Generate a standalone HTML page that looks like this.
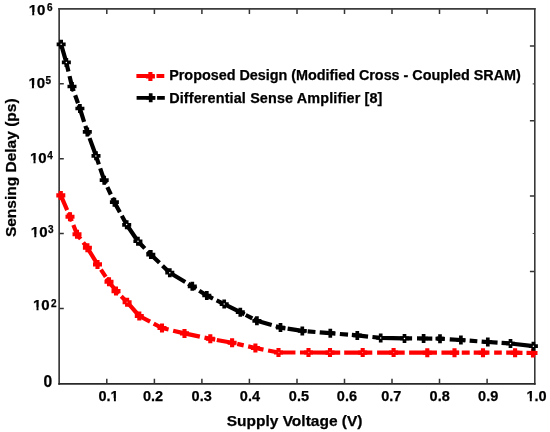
<!DOCTYPE html>
<html><head><meta charset="utf-8"><style>
html,body{margin:0;padding:0;background:#fff;}
svg{display:block;}
text{font-family:"Liberation Sans",sans-serif;font-weight:bold;fill:#000;stroke:#000;stroke-width:0.25px;}
.lg{font-size:14.4px;}
.ti{font-size:15.5px;}
.tk{font-size:14.5px;}
.sp{font-size:10px;}
.tky{font-size:15px;}
.tk0{font-size:15.6px;}
</style></head><body>
<svg width="550" height="432" viewBox="0 0 550 432">
<rect width="550" height="432" fill="#fff"/>
<path d="M59.15 8V384.7" stroke="#3c3c3c" stroke-width="1.7" fill="none"/>
<path d="M534.8 8V384.7" stroke="#383838" stroke-width="1.6" fill="none"/>
<path d="M58.3 8.9H535.6" stroke="#3c3c3c" stroke-width="1.8" fill="none"/>
<path d="M58.3 383.85H535.6" stroke="#2a2a2a" stroke-width="1.65" fill="none"/>
<path d="M106.8 383.5V378.7M106.8 9.2V14.0M154.4 383.5V378.7M154.4 9.2V14.0M201.9 383.5V378.7M201.9 9.2V14.0M249.4 383.5V378.7M249.4 9.2V14.0M297 383.5V378.7M297 9.2V14.0M344.5 383.5V378.7M344.5 9.2V14.0M392 383.5V378.7M392 9.2V14.0M439.5 383.5V378.7M439.5 9.2V14.0M487.1 383.5V378.7M487.1 9.2V14.0M59.5 83.8H63.8M59.5 158.8H63.8M59.5 233.6H63.8M59.5 308.5H63.8M534.5 45.9H529.9M534.5 120.8H529.9M534.5 195.9H529.9M534.5 271.5H529.9M534.5 346.5H529.9" stroke="#333" stroke-width="1.5" fill="none"/>
<path d="M534 83.8H532.7M534 233.5H532.7" stroke="#555" stroke-width="1.2" fill="none"/>
<polyline points="60.8,195.4 70.0,216.7 77.0,234.2 87.4,247.8 97.5,264.4 109.0,281.8 116.0,291.1 127.1,302.2 139.3,316.0 162.0,328.0 184.5,333.4 210.3,338.8 232.1,342.7 255.4,348.0 278.5,352.5 308.5,352.5 330.0,352.6 362.7,352.6 393.6,352.6 427.3,352.7 454.5,352.7 483.0,352.7 515.1,352.7 533.0,353.0" fill="none" stroke="#f00" stroke-width="4.2" stroke-dasharray="16.06 3.00 8.97 4.20 15.85 4.30 28.95 3.50 8.75 1.50 19.93 3.50 38.89 4.10 16.16 4.70 27.39 4.70 10.95 1.60 19.28 1.50 6.65 4.60 15.65 4.70 27.54 4.50 40.25 4.00 28.10 4.80 27.60 4.40 27.85 4.50 17.80 2.50 7.95 4.00 15.75 4.70 7.65 4.40 16.30 4.00 16.50 0.00" stroke-linejoin="round"/>
<path d="M56.30 195.40H65.30M60.80 190.90V199.90M65.50 216.70H74.50M70.00 212.20V221.20M72.50 234.20H81.50M77.00 229.70V238.70M82.90 247.80H91.90M87.40 243.30V252.30M93.00 264.40H102.00M97.50 259.90V268.90M104.50 281.80H113.50M109.00 277.30V286.30M111.50 291.10H120.50M116.00 286.60V295.60M122.60 302.20H131.60M127.10 297.70V306.70M134.80 316.00H143.80M139.30 311.50V320.50M157.50 328.00H166.50M162.00 323.50V332.50M180.00 333.40H189.00M184.50 328.90V337.90M205.80 338.80H214.80M210.30 334.30V343.30M227.60 342.70H236.60M232.10 338.20V347.20M250.90 348.00H259.90M255.40 343.50V352.50M274.00 352.50H283.00M278.50 348.00V357.00M304.00 352.50H313.00M308.50 348.00V357.00M325.50 352.60H334.50M330.00 348.10V357.10M358.20 352.60H367.20M362.70 348.10V357.10M389.10 352.60H398.10M393.60 348.10V357.10M422.80 352.70H431.80M427.30 348.20V357.20M450.00 352.70H459.00M454.50 348.20V357.20M478.50 352.70H487.50M483.00 348.20V357.20M510.60 352.70H519.60M515.10 348.20V357.20M528.50 353.00H537.50M533.00 348.50V357.50" stroke="#f00" stroke-width="4.1" fill="none"/>
<polyline points="61.1,44.4 66.3,62.4 72.0,86.5 79.9,108.5 87.3,131.9 96.0,155.8 104.2,180.2 114.4,202.2 126.7,224.8 137.9,241.2 150.8,254.6 169.8,272.7 192.3,286.3 206.8,295.5 224.2,304.1 240.3,312.2 256.9,320.8 280.5,327.6 302.3,330.9 330.3,333.2 357.3,335.4 380.7,337.9 404.5,338.4 423.6,338.5 440.0,338.7 460.9,340.0 487.8,342.0 510.5,343.5 533.4,346.2" fill="none" stroke="#000" stroke-width="4.2" stroke-dasharray="28.04 4.80 15.72 4.30 8.37 2.00 17.57 4.30 10.41 2.50 27.85 4.20 16.48 3.60 8.22 3.70 16.20 4.10 40.00 4.00 16.63 4.20 28.14 3.50 9.33 3.60 15.92 4.00 31.29 1.30 7.47 1.30 19.22 4.30 9.88 2.20 18.22 2.00 7.79 4.30 15.80 4.40 8.22 3.80 16.30 4.40 39.74 4.90 15.30 4.30 8.22 4.90 15.67 4.30 7.71 4.30 16.00 4.00 42.07 0.00" stroke-linejoin="round"/>
<path d="M56.65 44.35H65.65M61.15 39.85V48.85M61.85 62.40H70.85M66.35 57.90V66.90M67.50 86.50H76.50M72.00 82.00V91.00M75.40 108.50H84.40M79.90 104.00V113.00M82.80 131.90H91.80M87.30 127.40V136.40M91.50 155.80H100.50M96.00 151.30V160.30M99.70 180.20H108.70M104.20 175.70V184.70M109.90 202.20H118.90M114.40 197.70V206.70M122.20 224.80H131.20M126.70 220.30V229.30M133.40 241.25H142.40M137.90 236.75V245.75M146.30 254.60H155.30M150.80 250.10V259.10M165.30 272.70H174.30M169.80 268.20V277.20M187.80 286.30H196.80M192.30 281.80V290.80M202.30 295.50H211.30M206.80 291.00V300.00M219.70 304.10H228.70M224.20 299.60V308.60M235.80 312.20H244.80M240.30 307.70V316.70M252.40 320.80H261.40M256.90 316.30V325.30M276.00 327.60H285.00M280.50 323.10V332.10M297.80 330.90H306.80M302.30 326.40V335.40M325.80 333.20H334.80M330.30 328.70V337.70M352.80 335.40H361.80M357.30 330.90V339.90M376.20 337.90H385.20M380.70 333.40V342.40M400.00 338.40H409.00M404.50 333.90V342.90M419.10 338.50H428.10M423.60 334.00V343.00M435.50 338.70H444.50M440.00 334.20V343.20M456.40 340.00H465.40M460.90 335.50V344.50M483.30 342.00H492.30M487.80 337.50V346.50M506.00 343.50H515.00M510.50 339.00V348.00M528.90 346.20H537.90M533.40 341.70V350.70" stroke="#000" stroke-width="3.7" fill="none"/>
<g fill="#fff"><circle cx="61.15" cy="44.35" r="0.75"/><circle cx="66.35" cy="62.4" r="0.75"/><circle cx="95.9" cy="155.9" r="0.75"/><circle cx="126.6" cy="224.6" r="0.75"/><circle cx="138.0" cy="241.2" r="0.75"/><circle cx="169.8" cy="272.8" r="0.75"/><circle cx="224.2" cy="304.1" r="0.75"/><circle cx="380.7" cy="337.9" r="0.75"/><circle cx="404.45" cy="338.6" r="0.75"/><circle cx="510.5" cy="343.5" r="0.75"/><circle cx="533.4" cy="346.2" r="0.75"/></g>
<g fill="#ff8a8a"><circle cx="127.1" cy="302.2" r="0.6"/><circle cx="278.9" cy="352.4" r="0.6"/><circle cx="308.8" cy="352.4" r="0.6"/><circle cx="329.9" cy="352.4" r="0.6"/><circle cx="362.6" cy="352.5" r="0.6"/><circle cx="393.7" cy="352.5" r="0.6"/></g>
<path d="M136.4 76.05H154.4M156.5 76.05H164.3" stroke="#f00" stroke-width="3.9"/>
<path d="M145.90 76.40H154.90M150.40 71.90V80.90" stroke="#f00" stroke-width="4.1" fill="none"/>
<path d="M136.6 97.9H155.3M157.1 97.9H164.8" stroke="#000" stroke-width="3.8"/>
<path d="M146.20 97.75H155.20M150.70 93.25V102.25" stroke="#000" stroke-width="3.7" fill="none"/>
<text x="169.2" y="79.7" class="lg" textLength="351.6" lengthAdjust="spacing">Proposed Design (Modified Cross - Coupled SRAM)</text>
<text x="169.2" y="103" class="lg" textLength="213.2" lengthAdjust="spacing">Differential Sense Amplifier [8]</text>
<text x="294.6" y="425.7" class="ti" text-anchor="middle">Supply Voltage (V)</text>
<text transform="translate(15.6,167.75) rotate(-90)" class="ti" text-anchor="middle">Sensing Delay (ps)</text>
<text x="108.5" y="401.2" class="tk" text-anchor="middle">0.1</text>
<text x="153" y="401.2" class="tk" text-anchor="middle">0.2</text>
<text x="201.7" y="401.2" class="tk" text-anchor="middle">0.3</text>
<text x="249.9" y="401.2" class="tk" text-anchor="middle">0.4</text>
<text x="298.9" y="401.2" class="tk" text-anchor="middle">0.5</text>
<text x="346.9" y="401.2" class="tk" text-anchor="middle">0.6</text>
<text x="391.3" y="401.2" class="tk" text-anchor="middle">0.7</text>
<text x="439.7" y="401.2" class="tk" text-anchor="middle">0.8</text>
<text x="488.2" y="401.2" class="tk" text-anchor="middle">0.9</text>
<text x="536.5" y="401.2" class="tk" text-anchor="middle">1.0</text>
<text transform="translate(28.7,15.0)" class="tky">10</text><text x="46.9" y="11.2" class="sp">6</text>
<text transform="translate(28.4,88.0)" class="tky">10</text><text x="45.6" y="84" class="sp">5</text>
<text transform="translate(30.0,163.1)" class="tky">10</text><text x="47.3" y="159" class="sp">4</text>
<text transform="translate(30.8,237.4)" class="tky">10</text><text x="48.0" y="233.2" class="sp">3</text>
<text transform="translate(33.0,310.4)" class="tky">10</text><text x="51.1" y="306.6" class="sp">2</text>
<text x="43.6" y="387.2" class="tk0">0</text>
<g fill="#fff"><rect x="110.73" y="398.20" width="3.19" height="3.80"/><rect x="115.86" y="398.20" width="3.08" height="3.80"/><rect x="526.63" y="398.20" width="3.19" height="3.80"/><rect x="531.77" y="398.20" width="3.08" height="3.80"/><rect x="28.92" y="12.00" width="3.30" height="3.80"/><rect x="34.23" y="12.00" width="3.19" height="3.80"/><rect x="28.62" y="85.00" width="3.30" height="3.80"/><rect x="33.93" y="85.00" width="3.19" height="3.80"/><rect x="30.22" y="160.10" width="3.30" height="3.80"/><rect x="35.53" y="160.10" width="3.19" height="3.80"/><rect x="31.02" y="234.40" width="3.30" height="3.80"/><rect x="36.33" y="234.40" width="3.19" height="3.80"/><rect x="33.22" y="307.40" width="3.30" height="3.80"/><rect x="38.53" y="307.40" width="3.19" height="3.80"/></g>
</svg>
</body></html>
